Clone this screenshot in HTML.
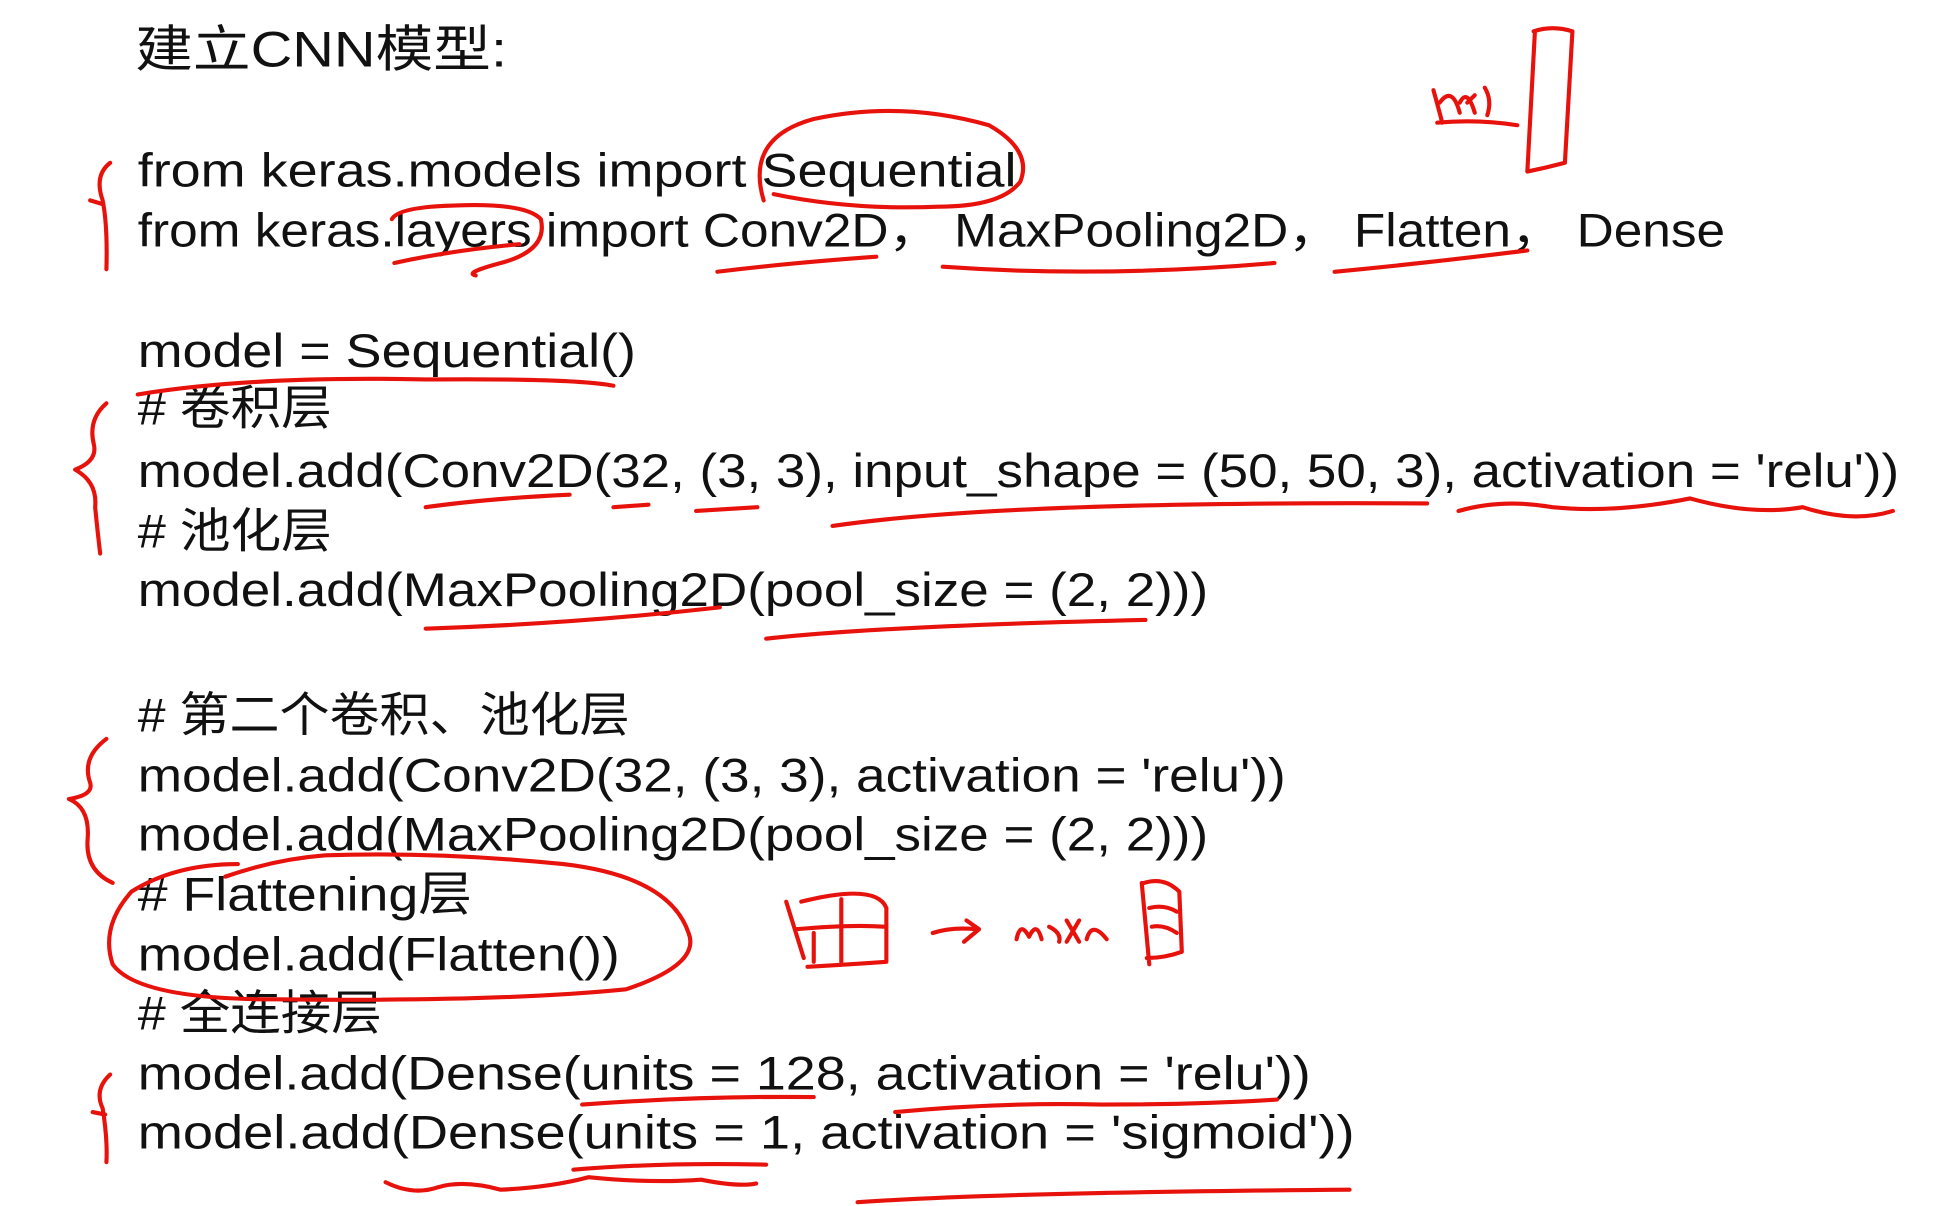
<!DOCTYPE html>
<html><head><meta charset="utf-8"><style>
html,body{margin:0;padding:0;background:#fff;}
svg{display:block;}
text{font-family:"Liberation Sans","Noto Sans CJK SC",sans-serif;fill:#111;font-size:38px;}
.r{fill:none;stroke:#e8120c;stroke-width:3.3;stroke-linecap:round;stroke-linejoin:round;}
</style></head><body>
<svg width="1953" height="1206" viewBox="0 0 1560 963" preserveAspectRatio="none">
<g transform="translate(0,-3)">
<text x="108" y="56" textLength="297" lengthAdjust="spacingAndGlyphs" style="font-size:40px">建立CNN模型:</text>
<text x="110" y="152" textLength="702" lengthAdjust="spacingAndGlyphs">from keras.models import Sequential</text>
<text x="110" y="200" textLength="1268" lengthAdjust="spacingAndGlyphs">from keras.layers import Conv2D， MaxPooling2D， Flatten， Dense</text>
<text x="110" y="296" textLength="398" lengthAdjust="spacingAndGlyphs">model = Sequential()</text>
<text x="110" y="342" textLength="155" lengthAdjust="spacingAndGlyphs"># 卷积层</text>
<text x="110" y="392" textLength="1407" lengthAdjust="spacingAndGlyphs">model.add(Conv2D(32, (3, 3), input_shape = (50, 50, 3), activation = 'relu'))</text>
<text x="110" y="440" textLength="155" lengthAdjust="spacingAndGlyphs"># 池化层</text>
<text x="110" y="487" textLength="855" lengthAdjust="spacingAndGlyphs">model.add(MaxPooling2D(pool_size = (2, 2)))</text>
<text x="110" y="587" textLength="393" lengthAdjust="spacingAndGlyphs"># 第二个卷积、池化层</text>
<text x="110" y="635" textLength="917" lengthAdjust="spacingAndGlyphs">model.add(Conv2D(32, (3, 3), activation = 'relu'))</text>
<text x="110" y="682" textLength="855" lengthAdjust="spacingAndGlyphs">model.add(MaxPooling2D(pool_size = (2, 2)))</text>
<text x="110" y="730" textLength="267" lengthAdjust="spacingAndGlyphs"># Flattening层</text>
<text x="110" y="778" textLength="385" lengthAdjust="spacingAndGlyphs">model.add(Flatten())</text>
<text x="110" y="825" textLength="195" lengthAdjust="spacingAndGlyphs"># 全连接层</text>
<text x="110" y="873" textLength="937" lengthAdjust="spacingAndGlyphs">model.add(Dense(units = 128, activation = 'relu'))</text>
<text x="110" y="920" textLength="972" lengthAdjust="spacingAndGlyphs">model.add(Dense(units = 1, activation = 'sigmoid'))</text>
</g>

<path class="r" d="M1145 72 Q1150 90 1152 98 M1150 82 Q1160 68 1166 90 M1166 82 Q1172 70 1178 90 M1172 82 L1178 76 M1186 70 Q1192 80 1188 92 M1148 98 Q1180 95 1212 100"/>
<path class="r" d="M1225 25 Q1240 20 1256 25 L1250 130 Q1235 134 1220 137 L1226 26"/>
<path class="r" d="M610 160 Q595 110 650 95 Q720 80 790 100 Q825 120 815 145 Q800 165 750 165 Q680 168 618 155"/>
<path class="r" d="M88 130 Q75 140 82 160 Q86 180 85 215 M72 160 L82 163"/>
<path class="r" d="M313 175 Q318 165 365 164 Q420 162 432 175 Q438 200 400 210 Q370 218 380 220 M315 210 Q360 200 415 195"/>
<path class="r" d="M573 217 Q630 210 700 205"/>
<path class="r" d="M753 213 Q880 222 1018 210"/>
<path class="r" d="M1066 217 Q1140 210 1220 200"/>
<path class="r" d="M110 315 Q200 300 340 303 Q460 302 490 308"/>
<path class="r" d="M85 322 Q70 335 75 355 Q78 368 60 375 Q78 385 76 405 Q78 425 80 442"/>
<path class="r" d="M340 405 Q390 398 455 395 M490 405 L518 403 M556 408 L605 405 M665 420 Q800 400 1140 402 M1165 408 Q1200 398 1240 405 Q1290 410 1350 398 Q1400 412 1440 405 Q1480 418 1512 408"/>
<path class="r" d="M340 502 Q460 498 575 485 M612 510 Q700 500 915 495"/>
<path class="r" d="M85 590 Q65 605 72 625 Q75 635 55 638 Q72 645 70 670 Q68 695 90 705"/>
<path class="r" d="M190 690 Q140 690 105 712 Q80 740 90 770 Q110 798 220 798 Q400 800 500 790 Q560 770 550 745 Q535 700 450 690 Q350 680 260 683 Q220 686 180 700"/>
<path class="r" d="M628 720 L642 765 M640 720 Q700 705 708 725 L708 768 Q680 770 645 772 M636 742 Q680 738 706 740 M672 718 L672 768 M650 745 L650 768"/>
<path class="r" d="M745 745 Q760 740 780 742 M772 735 L782 742 L770 752"/>
<path class="r" d="M812 750 Q815 735 822 748 Q828 735 832 750 M838 740 Q848 745 846 752 M852 735 L862 752 M862 735 L852 752 M868 750 Q872 735 884 750"/>
<path class="r" d="M912 705 L918 770 M914 705 Q930 700 942 712 L944 760 Q930 765 916 765 M918 725 Q930 722 940 728 M920 740 Q930 738 940 745"/>
<path class="r" d="M88 858 Q75 870 82 885 Q86 910 85 928 M74 888 L84 890"/>
<path class="r" d="M465 882 Q560 875 650 876 M715 888 Q800 880 880 882 Q960 882 1020 878"/>
<path class="r" d="M458 934 Q530 928 612 930 M308 944 Q330 955 350 948 Q370 942 400 950 Q440 948 470 940 Q520 945 560 942 Q590 948 604 945 M685 960 Q800 952 1078 950"/>
</svg>
</body></html>
